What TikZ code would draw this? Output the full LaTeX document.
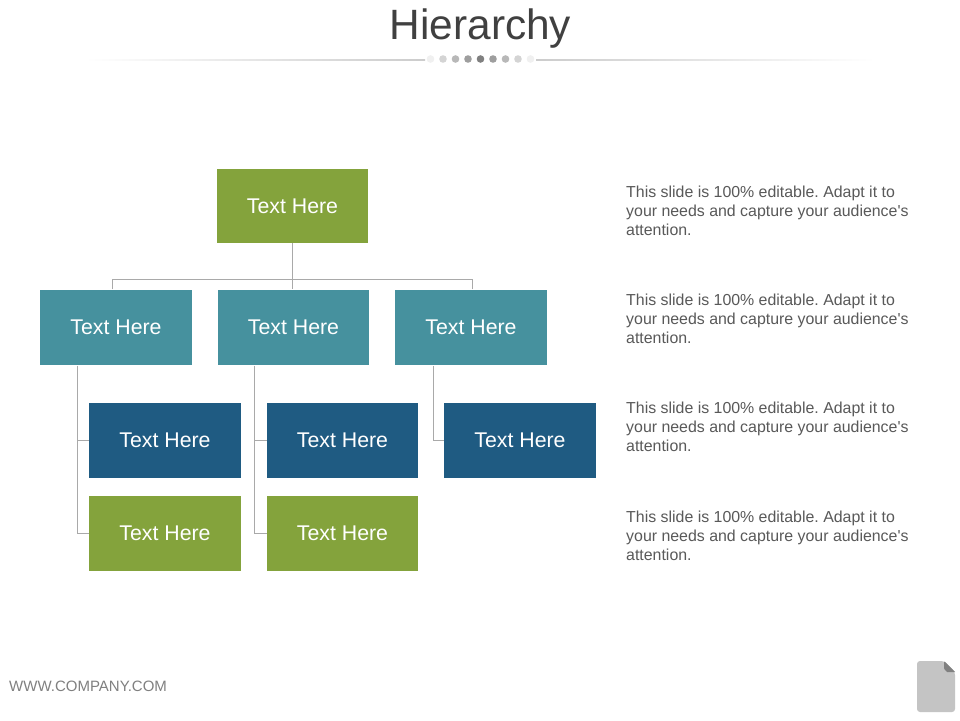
\documentclass[tikz,border=0pt]{standalone}
\usepackage{fontspec}
\setmainfont{Liberation Sans}
\newfontfamily\descfont{Liberation Sans}
\usetikzlibrary{calc}
\definecolor{cgreen}{HTML}{84A33C}
\definecolor{cteal}{HTML}{46919E}
\definecolor{cblue}{HTML}{1F5B82}
\definecolor{cline}{HTML}{A9A9A9}
\definecolor{ctitle}{HTML}{404040}
\definecolor{cbody}{HTML}{595959}
\tikzset{
  box/.style={minimum width=151.5pt, minimum height=74.5pt, inner sep=0pt, outer sep=0pt, text=white, font=\fontsize{21.3}{24}\selectfont},
  greenbox/.style={box, fill=cgreen},
  tealbox/.style={box, fill=cteal},
  bluebox/.style={box, fill=cblue},
  link/.style={draw=cline, line width=1.1pt},
  desc/.style={anchor=west, align=left, inner sep=0pt, text=cbody, font=\descfont\frenchspacing\fontsize{15.9}{19}\selectfont},
  dotmark/.style={circle, minimum size=7.6pt, inner sep=0pt, fill=#1},
}
\begin{document}
\begin{tikzpicture}[x=1pt,y=-1pt]
\useasboundingbox (0,0) rectangle (960,720);
\fill[white] (0,0) rectangle (960,720);

\node[text=ctitle, font=\fontsize{42.4}{48}\selectfont] (title) at (480.5,29) {Hierarchy};

\fill[left color=white, right color=black!20] (85,59.2) rectangle (425,60);
\fill[left color=black!20, right color=white] (536,59.2) rectangle (875,60);
\node[dotmark=black!6]  (d1) at (430.5,59) {};
\node[dotmark=black!17] (d2) at (443,59) {};
\node[dotmark=black!28] (d3) at (455.5,59) {};
\node[dotmark=black!38] (d4) at (468,59) {};
\node[dotmark=black!50] (d5) at (480.5,59) {};
\node[dotmark=black!38] (d6) at (493,59) {};
\node[dotmark=black!28] (d7) at (505.5,59) {};
\node[dotmark=black!17] (d8) at (518,59) {};
\node[dotmark=black!6]  (d9) at (530.5,59) {};

\node[greenbox] (root) at (292.5,206) {Text Here};
\node[tealbox]  (a) at (116,327.5) {Text Here};
\node[tealbox]  (b) at (293.5,327.5) {Text Here};
\node[tealbox]  (c) at (471,327.5) {Text Here};
\node[bluebox]  (a1) at (165,440.5) {Text Here};
\node[bluebox]  (b1) at (342.5,440.5) {Text Here};
\node[bluebox]  (c1) at (520,440.5) {Text Here};
\node[greenbox] (a2) at (165,533.5) {Text Here};
\node[greenbox] (b2) at (342.5,533.5) {Text Here};

\coordinate (bus) at (292.5,279.5);
\path[link] (root.south) -- (bus);
\path[link] ($(a.north)+(-3.5,-1)$) |- (bus);
\path[link] ($(c.north)+(1.5,-1)$) |- (bus);
\path[link] (bus) -- ($(b.north)+(-1,-1)$);
\path[link] ($(a.south)+(-38.5,1)$) |- (a2.west);
\path[link] ($(a.south)+(-38.5,1)$) |- (a1.west);
\path[link] ($(b.south)+(-39,1)$) |- (b2.west);
\path[link] ($(b.south)+(-39,1)$) |- (b1.west);
\path[link] ($(c.south)+(-37.5,1)$) |- (c1.west);

\node[desc] (t1) at (626,210.7) {This slide is 100\% editable. Adapt it to\\your needs and capture your audience's\\attention.};
\node[desc] (t2) at (626,318.7) {This slide is 100\% editable. Adapt it to\\your needs and capture your audience's\\attention.};
\node[desc] (t3) at (626,426.7) {This slide is 100\% editable. Adapt it to\\your needs and capture your audience's\\attention.};
\node[desc] (t4) at (626,535.7) {This slide is 100\% editable. Adapt it to\\your needs and capture your audience's\\attention.};

\node[anchor=west, inner sep=0pt, text=black!50, font=\fontsize{15}{17}\selectfont] (web) at (9,686.5) {WWW.COMPANY.COM};

\fill[black!23, rounded corners=3pt] (917,712) -- (917,661) -- (944,661) -- (955,672) -- (955,712) -- cycle;
\fill[black!50] (944,661) -- (955,672) -- (947,672) [rounded corners=1pt] -- (944,669) -- cycle;
\end{tikzpicture}
\end{document}
